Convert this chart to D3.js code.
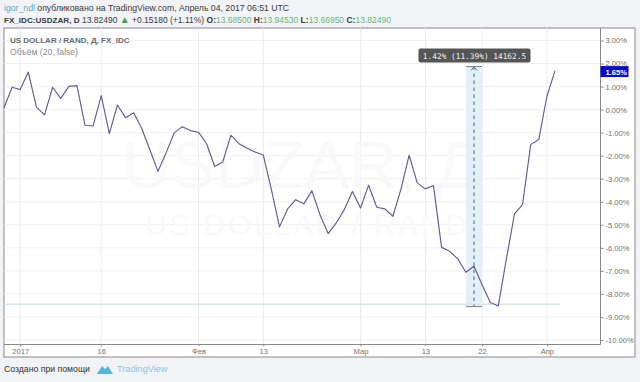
<!DOCTYPE html>
<html>
<head>
<meta charset="utf-8">
<script src="https://cdnjs.cloudflare.com/ajax/libs/d3/7.8.5/d3.min.js"></script>
<style>
html, body { margin: 0; padding: 0; background: #f1f3f6; }
svg { display: block; }
text { font-family: "Liberation Sans", Arial, sans-serif; }
.axis text { fill: #6f6f6f; font-size: 7.6px; }
.axis line, .axis path { stroke: #8a8a8a; }
.y-axis text { text-anchor: start; }
</style>
</head>
<body>
<div id="chart"></div>
<script>
// percent change, one value per trading day
const changes = [
    0.08, 0.97, 0.87, 1.63, 0.11, -0.23, 0.97, 0.49, 1.01, 1.04,
    -0.68, -0.71, 0.61, -1.04, 0.2, -0.35, -0.14, -0.82, -1.74, -2.68,
    -1.88, -1.01, -0.74, -0.91, -0.98, -1.48, -2.47, -2.27, -1.11, -1.48,
    -1.68, -1.84, -1.97, -3.47, -5.09, -4.31, -3.91, -4.09, -3.52, -4.56,
    -5.38, -4.92, -4.34, -3.55, -4.27, -3.28, -4.24, -4.31, -4.63, -3.44,
    -1.98, -3.18, -3.44, -3.29, -5.98, -6.15, -6.48, -7.06, -6.8, -7.6,
    -8.36, -8.52, -6.48, -4.53, -4.12, -1.52, -1.3, 0.58, 1.69,
];
const xTickIndex = [2, 12, 24, 32, 44, 52, 59, 67];
const xTickLabels = ['2017', '16', 'Фев', '13', 'Мар', '13', '22', 'Апр'];
const yTicks = [3, 2, 1, 0, -1, -2, -3, -4, -5, -6, -7, -8, -9, -10];
const lastLabel = 1.65;
const baseLevel = -8.45;
const measureRange = [57, 59];
const measureValues = [-8.55, 1.87];
const measureText = '1.42% (11.39%) 14162.5';

const width = 640;
const height = 382;
const frame = { left: 4, top: 28, right: 635, bottom: 357 };
const plot = { right: 600.5, bottom: 344.5 };

const x = d3.scaleLinear().domain([0, changes.length - 1]).range([4, 555]);
const y = d3.scaleLinear().domain([-10, 3]).range([340, 40.5]);

const svg = d3.select('#chart').append('svg')
    .attr('width', width)
    .attr('height', height);

// white panel with the grey frame
svg.append('rect')
    .attr('x', frame.left)
    .attr('y', frame.top)
    .attr('width', frame.right - frame.left)
    .attr('height', frame.bottom - frame.top)
    .attr('fill', '#fff')
    .attr('stroke', '#9b9b9b')
    .attr('stroke-width', 1.2);

// grid
svg.append('g').selectAll('line')
    .data(yTicks)
    .enter().append('line')
    .attr('x1', frame.left)
    .attr('x2', plot.right)
    .attr('y1', d => y(d))
    .attr('y2', d => y(d))
    .attr('stroke', '#eef0f3');

svg.append('g').selectAll('line')
    .data(xTickIndex)
    .enter().append('line')
    .attr('x1', d => x(d))
    .attr('x2', d => x(d))
    .attr('y1', frame.top)
    .attr('y2', plot.bottom)
    .attr('stroke', '#e8ebee');

// watermark
svg.append('text')
    .attr('x', 122)
    .attr('y', 188)
    .attr('font-size', 67)
    .attr('fill', '#f8f9fa')
    .text('USDZAR, Д');

svg.append('text')
    .attr('x', 145)
    .attr('y', 235)
    .attr('font-size', 30)
    .attr('letter-spacing', 2.8)
    .attr('fill', '#f8f9fa')
    .text('US DOLLAR / RAND');

// measure band
svg.append('rect')
    .attr('x', x(measureRange[0]))
    .attr('y', y(measureValues[1]))
    .attr('width', x(measureRange[1]) - x(measureRange[0]))
    .attr('height', y(measureValues[0]) - y(measureValues[1]))
    .attr('fill', '#e3f0fb');

svg.append('line')
    .attr('x1', x(0))
    .attr('x2', 560)
    .attr('y1', y(baseLevel))
    .attr('y2', y(baseLevel))
    .attr('stroke', '#d8e5e9')
    .attr('stroke-width', 1.4);

const midX = x((measureRange[0] + measureRange[1]) / 2);

svg.append('line')
    .attr('x1', midX)
    .attr('x2', midX)
    .attr('y1', y(measureValues[1]))
    .attr('y2', y(measureValues[0]))
    .attr('stroke', '#66788a')
    .attr('stroke-width', 1.2)
    .attr('stroke-dasharray', '3.5 3.5');

measureValues.forEach((v) => {
    svg.append('line')
        .attr('x1', x(measureRange[0]))
        .attr('x2', x(measureRange[1]))
        .attr('y1', y(v))
        .attr('y2', y(v))
        .attr('stroke', '#7d8792')
        .attr('stroke-width', 1);
});

svg.append('path')
    .attr('d', `M${midX - 3},${y(measureValues[1]) + 4}L${midX},${y(measureValues[1])}L${midX + 3},${y(measureValues[1]) + 4}`)
    .attr('fill', 'none')
    .attr('stroke', '#66788a');

// price line
const line = d3.line()
    .x((d, i) => x(i))
    .y(d => y(d));

svg.append('path')
    .datum(changes)
    .attr('d', line)
    .attr('fill', 'none')
    .attr('stroke', '#615b9a')
    .attr('stroke-width', 1.15)
    .attr('stroke-linejoin', 'round');

// axes
const yAxis = d3.axisRight(y)
    .tickValues(yTicks)
    .tickSize(3)
    .tickPadding(2)
    .tickFormat(d => `${d.toFixed(2)}%`);

svg.append('g')
    .attr('class', 'axis y-axis')
    .attr('transform', `translate(${plot.right},0)`)
    .call(yAxis)
    .call(g => g.select('.domain').attr('d', `M0,${frame.top}V${plot.bottom}`));

const xAxis = d3.axisBottom(x)
    .tickValues(xTickIndex)
    .tickSize(2)
    .tickPadding(2)
    .tickFormat((d, i) => xTickLabels[i]);

svg.append('g')
    .attr('class', 'axis')
    .attr('transform', `translate(0,${plot.bottom})`)
    .call(xAxis)
    .call(g => g.select('.domain').attr('d', `M${frame.left},0H${plot.right}`));

// last value label
svg.append('rect')
    .attr('x', plot.right)
    .attr('y', y(lastLabel) - 5.5)
    .attr('width', 28)
    .attr('height', 11)
    .attr('fill', '#0a0ac4');

svg.append('text')
    .attr('x', plot.right + 5)
    .attr('y', y(lastLabel) + 3)
    .attr('font-size', 7.6)
    .attr('font-weight', 'bold')
    .attr('fill', '#fff')
    .text(`${lastLabel.toFixed(2)}%`);

// measure tooltip
svg.append('rect')
    .attr('x', 418.5)
    .attr('y', 48.5)
    .attr('width', 112)
    .attr('height', 14)
    .attr('rx', 2)
    .attr('fill', '#555');

svg.append('text')
    .attr('x', 474.5)
    .attr('y', 58.5)
    .attr('text-anchor', 'middle')
    .attr('font-size', 7.8)
    .style('font-family', '"DejaVu Sans Mono", monospace')
    .attr('fill', '#f0f0f0')
    .text(measureText);

// legend text inside the panel
svg.append('text')
    .attr('x', 10)
    .attr('y', 43)
    .attr('font-size', 8)
    .attr('font-weight', 'bold')
    .attr('fill', '#6b6b6b')
    .text('US DOLLAR / RAND, Д, FX_IDC');

svg.append('text')
    .attr('x', 10)
    .attr('y', 55)
    .attr('font-size', 8.6)
    .attr('fill', '#8a8a8a')
    .text('Объём (20, false)');

// header
const head1 = svg.append('text')
    .attr('x', 4)
    .attr('y', 11)
    .attr('font-size', 8.7)
    .attr('fill', '#3a3a3a');
head1.append('tspan').attr('fill', '#62a9c6').text('igor_ndl');
head1.append('tspan').text(' опубликовано на TradingView.com, Апрель 04, 2017 06:51 UTC');

const head2 = svg.append('text')
    .attr('x', 4)
    .attr('y', 23)
    .attr('font-size', 8.5)
    .attr('fill', '#3a3a3a');
head2.append('tspan').attr('font-weight', 'bold').attr('font-size', 8.1).text('FX_IDC:USDZAR, D');
head2.append('tspan').text(' 13.82490 ');
head2.append('tspan').attr('fill', '#3f9e4d').attr('font-size', 10).text('▲');
head2.append('tspan').text(' +0.15180 (+1.11%) ');
[['O:', '13.68500'], ['H:', '13.94530'], ['L:', '13.66950'], ['C:', '13.82490']].forEach((pair) => {
    head2.append('tspan').attr('font-weight', 'bold').text(pair[0]);
    head2.append('tspan').attr('fill', '#6cb37a').text(`${pair[1]} `);
});

// footer
svg.append('text')
    .attr('x', 4)
    .attr('y', 372)
    .attr('font-size', 8.7)
    .attr('fill', '#333')
    .text('Создано при помощи');

svg.append('path')
    .attr('d', 'M97,374L102,366L105,369L108,366L113,374Z')
    .attr('fill', '#5cb3d6');

svg.append('text')
    .attr('x', 117)
    .attr('y', 372)
    .attr('font-size', 9.2)
    .attr('fill', '#8cc4dc')
    .text('TradingView');
</script>
</body>
</html>
